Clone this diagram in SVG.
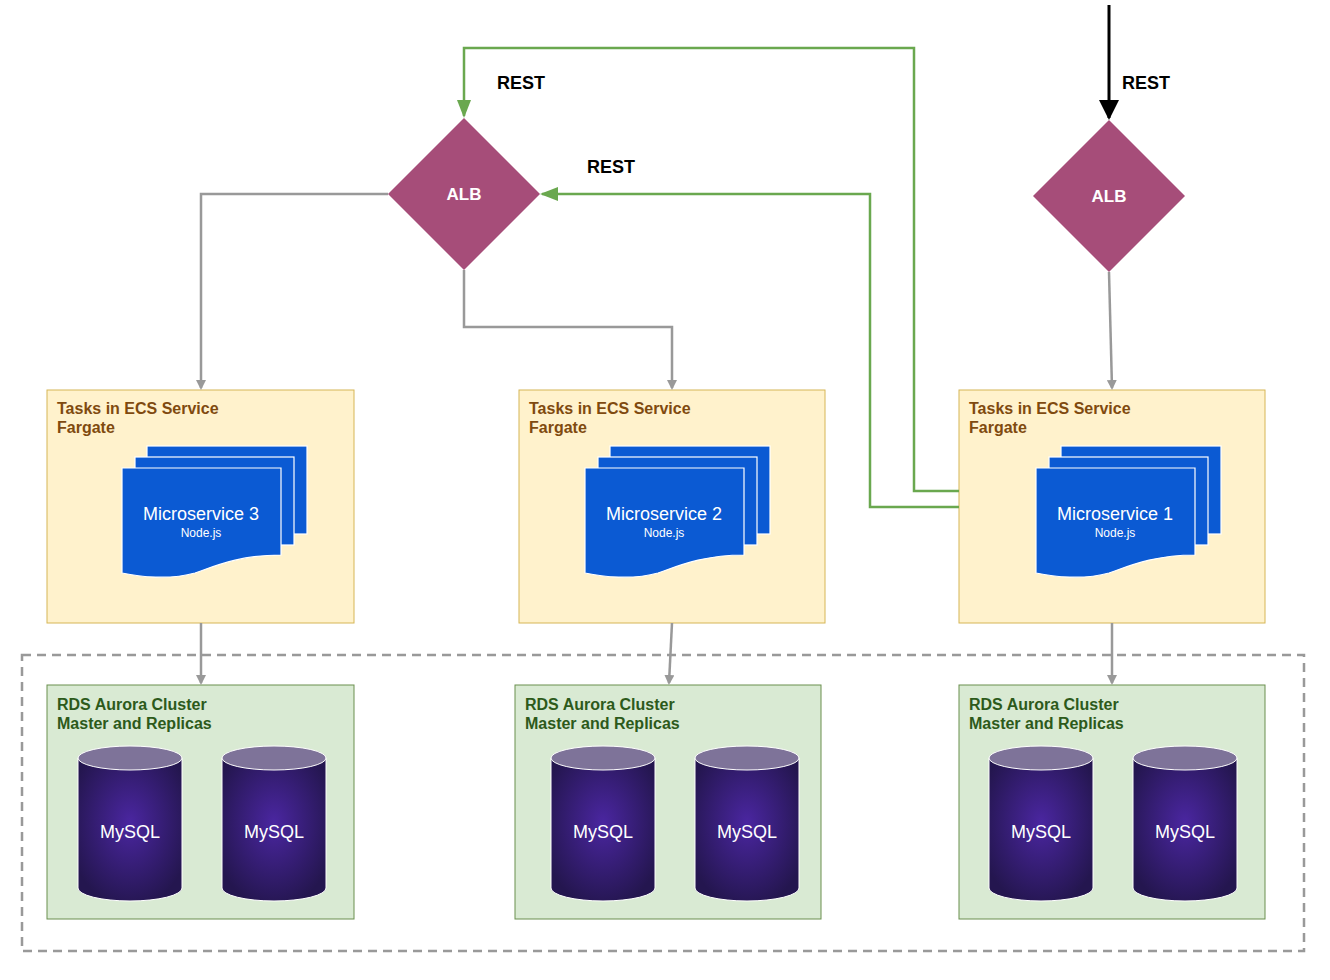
<svg xmlns="http://www.w3.org/2000/svg" width="1330" height="980" viewBox="0 0 1330 980">
<style>
text{font-family:"Liberation Sans",Arial,sans-serif}
.ecs{fill:#fff2cc;stroke:#d6b656;stroke-width:1}
.rds{fill:#d9ead3;stroke:#6a8f4e;stroke-width:1}
.t1{font-weight:bold;font-size:16px;fill:#7f4a0f}
.t2{font-weight:bold;font-size:16px;fill:#2d5a1b}
.sheet{fill:#0b5ad3;stroke:#fff;stroke-width:1.2}
.ms{fill:#fff;font-size:18px;text-anchor:middle}
.nj{fill:#fff;font-size:12px;text-anchor:middle}
.db{fill:#fff;font-size:18px;text-anchor:middle}
.alb{fill:#a64d79}
.albt{fill:#fff;font-weight:bold;font-size:17px;text-anchor:middle}
.rest{font-weight:bold;font-size:18px;fill:#000}
.g{fill:none;stroke:#999;stroke-width:2.5}
.gr{fill:none;stroke:#6aa84f;stroke-width:2.5}
</style>
<defs>
<marker id="ag" markerWidth="10" markerHeight="10" refX="8" refY="5" orient="auto" markerUnits="userSpaceOnUse"><path d="M0,0 L10,5 L0,10 Z" fill="#999"/></marker>
<marker id="agr" markerWidth="18" markerHeight="14" refX="16" refY="7" orient="auto" markerUnits="userSpaceOnUse"><path d="M0,0 L18,7 L0,14 Z" fill="#6aa84f"/></marker>
<marker id="ab" markerWidth="20" markerHeight="20" refX="18" refY="10" orient="auto" markerUnits="userSpaceOnUse"><path d="M0,0 L20,10 L0,20 Z" fill="#000"/></marker>
<radialGradient id="cyl" cx="50%" cy="45%" r="60%"><stop offset="0" stop-color="#4a26a0"/><stop offset="1" stop-color="#24164f"/></radialGradient>
<g id="stack">
<rect class="sheet" x="147" y="446" width="160" height="88"/>
<rect class="sheet" x="135" y="457" width="159" height="88"/>
<path class="sheet" d="M122,468 H281 V555 C240,555 215,566 195,573 C170,580 140,577 122,573 Z"/>
</g>
<g id="cyls">
<path d="M78,758 V888 A52,13 0 0 0 182,888 V758 Z" fill="url(#cyl)" stroke="#fff" stroke-width="1"/>
<ellipse cx="130" cy="758" rx="52" ry="12" fill="#7e7399" stroke="#fff" stroke-width="1"/>
<text class="db" x="130" y="838">MySQL</text>
<path d="M222,758 V888 A52,13 0 0 0 326,888 V758 Z" fill="url(#cyl)" stroke="#fff" stroke-width="1"/>
<ellipse cx="274" cy="758" rx="52" ry="12" fill="#7e7399" stroke="#fff" stroke-width="1"/>
<text class="db" x="274" y="838">MySQL</text>
</g>
</defs>
<rect width="1330" height="980" fill="#fff"/>
<rect x="22" y="655" width="1282" height="296" fill="none" stroke="#999" stroke-width="2.5" stroke-dasharray="9,6"/>

<g id="ecs3"><rect class="ecs" x="47" y="390" width="307" height="233"/><text class="t1" x="57" y="414">Tasks in ECS Service</text><text class="t1" x="57" y="433">Fargate</text>
<use href="#stack"/><text class="ms" x="201" y="520">Microservice 3</text><text class="nj" x="201" y="537">Node.js</text></g>
<g id="ecs2"><rect class="ecs" x="519" y="390" width="306" height="233"/><text class="t1" x="529" y="414">Tasks in ECS Service</text><text class="t1" x="529" y="433">Fargate</text>
<use href="#stack" transform="translate(463,0)"/><text class="ms" x="664" y="520">Microservice 2</text><text class="nj" x="664" y="537">Node.js</text></g>
<g id="ecs1"><rect class="ecs" x="959" y="390" width="306" height="233"/><text class="t1" x="969" y="414">Tasks in ECS Service</text><text class="t1" x="969" y="433">Fargate</text>
<use href="#stack" transform="translate(914,0)"/><text class="ms" x="1115" y="520">Microservice 1</text><text class="nj" x="1115" y="537">Node.js</text></g>

<g id="rds3"><rect class="rds" x="47" y="685" width="307" height="234"/><text class="t2" x="57" y="710">RDS Aurora Cluster</text><text class="t2" x="57" y="729">Master and Replicas</text><use href="#cyls"/></g>
<g id="rds2"><rect class="rds" x="515" y="685" width="306" height="234"/><text class="t2" x="525" y="710">RDS Aurora Cluster</text><text class="t2" x="525" y="729">Master and Replicas</text><use href="#cyls" transform="translate(473,0)"/></g>
<g id="rds1"><rect class="rds" x="959" y="685" width="306" height="234"/><text class="t2" x="969" y="710">RDS Aurora Cluster</text><text class="t2" x="969" y="729">Master and Replicas</text><use href="#cyls" transform="translate(911,0)"/></g>

<g id="alb1"><path class="alb" d="M464,118 L540,194 L464,270 L388,194 Z"/><text class="albt" x="464" y="200">ALB</text></g>
<g id="alb2"><path class="alb" d="M1109,120 L1185,196 L1109,272 L1033,196 Z"/><text class="albt" x="1109" y="202">ALB</text></g>

<g id="connectors">
<path class="g" d="M388,194 H201 V388" marker-end="url(#ag)"/>
<path class="g" d="M464,270 V327 H672 V388" marker-end="url(#ag)"/>
<path class="g" d="M1109,272 L1112,388" marker-end="url(#ag)"/>
<path class="g" d="M201,623 V683" marker-end="url(#ag)"/>
<path class="g" d="M672,623 L669,683" marker-end="url(#ag)"/>
<path class="g" d="M1112,623 V683" marker-end="url(#ag)"/>
<path class="gr" d="M959,491 H914 V48 H464 V116" marker-end="url(#agr)"/>
<path class="gr" d="M959,507 H870 V194 H542" marker-end="url(#agr)"/>
<path d="M1109,5 V118" stroke="#000" stroke-width="3" fill="none" marker-end="url(#ab)"/>
<text class="rest" x="497" y="89">REST</text>
<text class="rest" x="587" y="173">REST</text>
<text class="rest" x="1122" y="89">REST</text>
</g>
</svg>
